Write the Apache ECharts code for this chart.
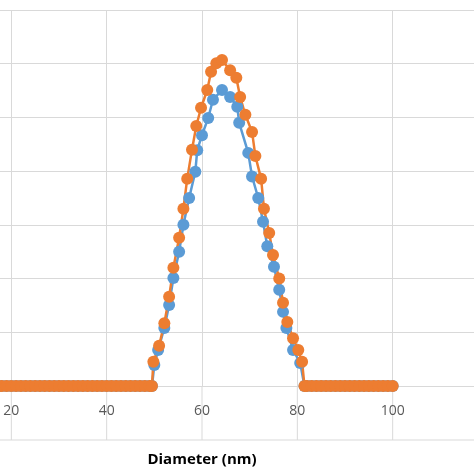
<!DOCTYPE html>
<html><head><meta charset="utf-8">
<script src="https://cdn.jsdelivr.net/npm/echarts@6/dist/echarts.min.js"></script>
<style>html,body{margin:0;padding:0;background:#fff}#c{width:474px;height:474px}</style>
</head><body><div id="c"></div>
<script>
const xTicks = [0, 20, 40, 60, 80, 100, 120];
const orangePeak = [[49.8,0.45],[51.0,0.75],[52.1,1.17],[53.1,1.66],[54.0,2.20],[55.2,2.76],[56.1,3.30],[56.9,3.86],[57.9,4.40],[58.8,4.84],[59.8,5.18],[61.1,5.51],[61.9,5.85],[63.0,6.01],[64.2,6.07],[65.9,5.88],[67.2,5.74],[68.0,5.38],[69.1,5.05],[70.5,4.73],[71.2,4.28],[72.4,3.86],[73.0,3.30],[74.1,2.85],[74.9,2.44],[76.2,2.00],[77.0,1.55],[77.9,1.19],[79.1,0.89],[80.2,0.67],[81.0,0.45]];
const bluePeak = [[50.0,0.39],[50.8,0.67],[52.1,1.08],[53.1,1.51],[54.0,2.01],[55.2,2.5],[56.1,3.0],[57.3,3.5],[58.6,3.99],[59.0,4.39],[60.0,4.67],[61.3,4.99],[62.3,5.33],[64.2,5.51],[65.9,5.38],[67.4,5.2],[67.8,4.9],[69.7,4.34],[70.5,3.9],[71.8,3.5],[72.8,3.06],[73.7,2.6],[75.1,2.22],[76.2,1.79],[77.0,1.38],[77.7,1.08],[79.1,0.67],[80.6,0.43]];
const zeroLeft = [0,1,2,3,4,5,6,7,8,9,10,11,12,13,14,15,16,17,18,19,20,21,22,23,24,25,26,27,28,29,30,31,32,33,34,35,36,37,38,39,40,41,42,43,44,45,46,47,48,49,49.5];
const zeroRight = [81.5,82,83,84,85,86,87,88,89,90,91,92,93,94,95,96,97,98,99,100];
function build(peak){
  return zeroLeft.map(x=>[x,0]).concat(peak, zeroRight.map(x=>[x,0]));
}
const chart = echarts.init(document.getElementById('c'));
chart.setOption({
  animation:false,
  grid:{left:-84,right:-14,top:10,bottom:88,outerBoundsMode:'none',containLabel:false},
  xAxis:{type:'value',min:0,max:120,interval:20,
    axisLine:{show:true,lineStyle:{color:'#d9d9d9'}},
    axisTick:{show:false},
    axisLabel:{color:'#595959',fontSize:14,fontFamily:'Open Sans',margin:18},
    splitLine:{show:true,lineStyle:{color:'#d9d9d9'}}},
  yAxis:{type:'value',min:0,max:7,interval:1,axisLabel:{show:false},axisLine:{show:false},axisTick:{show:false},
    splitLine:{show:true,lineStyle:{color:'#d9d9d9'}}},
  series:[
    {type:'line',data:build(bluePeak),symbol:'circle',symbolSize:12,itemStyle:{color:'#5B9BD5'},lineStyle:{color:'#5B9BD5',width:2.5}},
    {type:'line',data:build(orangePeak),symbol:'circle',symbolSize:12,itemStyle:{color:'#ED7D31'},lineStyle:{color:'#ED7D31',width:2.5}}
  ]
});
const y0 = chart.convertToPixel({gridIndex:0},[0,0])[1];
const g = [];
xTicks.forEach(t=>{
  const px = chart.convertToPixel({gridIndex:0},[t,0])[0];
  g.push({type:'line',z:-1,shape:{x1:px,y1:y0,x2:px,y2:y0+54},style:{stroke:'#d9d9d9',lineWidth:1}});
});
g.push({type:'line',z:-1,shape:{x1:0,y1:y0+54,x2:474,y2:y0+54},style:{stroke:'#d9d9d9',lineWidth:1}});
const cx = chart.convertToPixel({gridIndex:0},[60,0])[0];
g.push({type:'text',x:cx,y:y0+74,style:{text:'Diameter (nm)',font:'bold 15px "Open Sans"',fill:'#000',align:'center',verticalAlign:'middle'}});
chart.setOption({graphic:g});
</script></body></html>
